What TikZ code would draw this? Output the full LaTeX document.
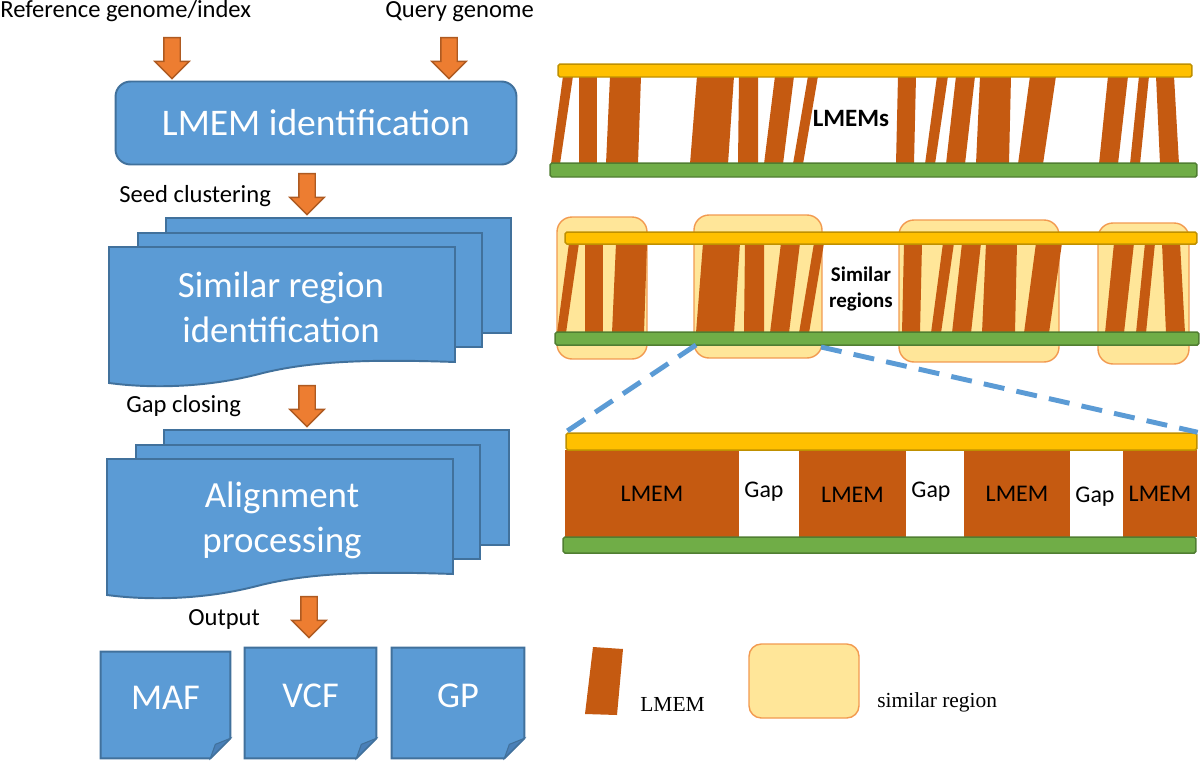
\documentclass[tikz,border=0pt]{standalone}
\usepackage{fontspec}
\setmainfont{Carlito}
\newfontfamily\legendfont{Liberation Serif}
\usepackage{tikz}
\usetikzlibrary{arrows.meta}
\usetikzlibrary{positioning, shapes.arrows, shapes.geometric, shapes.misc, backgrounds}
\usetikzlibrary{calc}
\definecolor{stageblue}{HTML}{5B9BD5}
\definecolor{stageline}{HTML}{41719C}
\definecolor{foldblue}{HTML}{4A80B8}
\definecolor{arroworange}{HTML}{ED7D31}
\definecolor{arrowline}{HTML}{AE5A21}
\definecolor{lmemfill}{HTML}{C55A11}
\definecolor{reffill}{HTML}{FFC000}
\definecolor{refline}{HTML}{BF9000}
\definecolor{qryfill}{HTML}{70AD47}
\definecolor{qryline}{HTML}{507E32}
\definecolor{simfill}{HTML}{FFE699}
\definecolor{simline}{HTML}{F29A50}
\tikzset{
flow arrow/.style = { single arrow, draw = arrowline, fill = arroworange, line width = 0.8pt, minimum height = 0.82cm, single arrow head extend = 0.18cm, shape border rotate = 270, inner sep = 0.15cm },
stage box/.style = { rectangle, draw = stageline, fill = stageblue, line width = 1.1pt, rounded corners = 8.5pt, text = white, font = \fontsize{21.4}{25.5}\selectfont },
stage text/.style = { text = white, align = center, font = \fontsize{21}{25.5}\selectfont },
out doc/.style = { rectangle, draw = none, text = white, inner sep = 0pt, text height = 0.46cm, text depth = 0.28cm, font = \fontsize{20.7}{24}\selectfont },
doc layer/.style = { draw = stageline, fill = stageblue, line width = 1.1pt },
fold/.style = { draw = stageline, fill = foldblue, line width = 0.6pt },
step label/.style = { inner sep = 0pt, font = \fontsize{14}{16}\selectfont },
ref bar/.style = { rectangle, draw = refline, fill = reffill, line width = 0.85pt, rounded corners = 1pt, inner sep = 0pt },
qry bar/.style = { rectangle, draw = qryline, fill = qryfill, line width = 0.85pt, rounded corners = 1pt, inner sep = 0pt },
lmem bar/.style = { fill = lmemfill },
lmem block/.style = { rectangle, fill = lmemfill, inner sep = 0pt, font = \fontsize{13.6}{16}\selectfont },
gap label/.style = { inner sep = 0pt, font = \fontsize{13.6}{16}\selectfont },
similar box/.style = { rectangle, draw = simline, fill = simfill, line width = 0.8pt, rounded corners = 8.5pt, inner sep = 0pt },
legend text/.style = { inner sep = 0pt, font = \legendfont\fontsize{12.2}{14}\selectfont },
zoom line/.style = { draw = stageblue, line width = 2.8pt, dash pattern = on 12pt off 7pt },
pics/doc stack/.style = {
        code = {
        \path[doc layer] (57,-29) rectangle ++(345,115);
        \path[doc layer] (29,-14) rectangle ++(344,114);
        \path[doc layer] (0,0) -- (346,0) -- (346,115) .. controls (260,112) and (200,114) .. (150,127) .. controls (100,140) and (45,142) .. (0,136) -- cycle;
        }
    }
}
\newcommand{\lmemlist}{563/573/551/560, 579/597/579/597, 610/641/606/638, 697/734/690/728, 739/758/738/758, 775/794/764/783, 808/818/793/803, 898/916/896/914, 937/948/925/935, 956/975/946/965, 980/1011/976/1009, 1030/1056/1018/1043, 1108/1128/1099/1118, 1139/1149/1130/1140, 1156/1174/1160/1179}

\begin{document}
\begin{tikzpicture}[x=0.02cm, y=-0.02cm]
      \useasboundingbox (0,0) rectangle (1200,761);
      \node[step label, anchor = base west] (refgen) at (0,17) {Reference genome/index};
      \node[step label, anchor = base west] (qrygen) at (385,17) {Query genome};
      \node[flow arrow] (arrref) at (172,54) {};
      \node[flow arrow] (arrqry) at (449,54) {};
      \node[stage box, minimum width = 8.02cm, minimum height = 1.66cm] (lmemid) at (316,123) {LMEM identification};
      \node[step label, anchor = base west] (seedcl) at (119,202) {Seed clustering};
      \node[flow arrow] (arrseed) at (307,190) {};
      \pic at (109,247) {doc stack};
      \node[stage text] (simid) at (281,307) {Similar region\\identification};
      \node[step label, anchor = base west] (gapcl) at (126,412) {Gap closing};
      \node[flow arrow] (arrgap) at (307,402) {};
      \pic at (107,459) {doc stack};
      \node[stage text] (alnproc) at (282,520) {Alignment\\processing};
      \node[step label, anchor = base west] (output) at (188,625) {Output};
      \node[flow arrow] (arrout) at (309,613) {};
      \node[out doc, minimum width = 2.58cm, minimum height = 2.12cm] (maf) at (165.5,705) {MAF};
      \node[out doc, minimum width = 2.62cm, minimum height = 2.2cm] (vcf) at (310.5,703) {VCF};
      \node[out doc, minimum width = 2.64cm, minimum height = 2.2cm] (gp) at (458,703) {GP};
      \begin{scope}[on background layer]
        \fill[white] (0,0) rectangle (1200,761);
        \foreach \n in {maf, vcf, gp} {
          \path[doc layer] (\n.north west) -- (\n.north east) -- ($(\n.south east)+(0,-20)$) -- ($(\n.south east)+(-20,0)$) -- (\n.south west) -- cycle;
          \path[fold] ($(\n.south east)+(0,-20)$) -- ($(\n.south east)+(-15,-14)$) -- ($(\n.south east)+(-20,0)$) -- cycle;
        }
      \end{scope}
      \begin{scope}
        \foreach \tl/\tr/\bl/\br in \lmemlist {
          \fill[lmem bar] (\tl,76) -- (\tr,76) -- (\br,164) -- (\bl,164) -- cycle;
        }
        \node[ref bar, minimum width = 12.68cm, minimum height = 0.26cm] (ref1) at (875,70.5) {};
        \node[qry bar, minimum width = 12.94cm, minimum height = 0.28cm] (qry1) at (873.5,170) {};
        \node[inner sep = 0pt, font = \bfseries\fontsize{14.2}{16}\selectfont] (lmems) at (851,118) {LMEMs};
      \end{scope}
      \begin{scope}
        \node[similar box, minimum width = 1.8cm, minimum height = 2.84cm] (simA) at (602,288) {};
        \node[similar box, minimum width = 2.56cm, minimum height = 2.86cm] (simB) at (758,286.5) {};
        \node[similar box, minimum width = 3.2cm, minimum height = 2.84cm] (simC) at (979,291) {};
        \node[similar box, minimum width = 1.82cm, minimum height = 2.82cm] (simD) at (1143.5,293.5) {};
        \foreach \tl/\tr/\bl/\br in \lmemlist {
          \fill[lmem bar] ({\tl+6},243) -- ({\tr+6},243) -- ({\br+6},333) -- ({\bl+6},333) -- cycle;
        }
        \node[ref bar, minimum width = 12.64cm, minimum height = 0.24cm] (ref2) at (881,238) {};
        \node[qry bar, minimum width = 12.88cm, minimum height = 0.26cm] (qry2) at (877,338.5) {};
        \node[inner sep = 0pt, align = center, font = \bfseries\fontsize{11.9}{15}\selectfont] (simregs) at (861,289) {Similar\\regions};
      \end{scope}
      \begin{scope}
        \node[lmem block, minimum width = 3.48cm, minimum height = 1.74cm] (lm1) at (652,493.5) {LMEM};
        \node[lmem block, minimum width = 2.14cm, minimum height = 1.8cm] (lm2) at (852.5,495) {LMEM};
        \node[lmem block, minimum width = 2.12cm, minimum height = 1.74cm] (lm3) at (1017,493.5) {LMEM};
        \node[lmem block, minimum width = 1.48cm, minimum height = 1.74cm] (lm4) at (1160,493.5) {LMEM};
        \node[gap label] (gap1) at (764,492) {Gap};
        \node[gap label] (gap2) at (931,492) {Gap};
        \node[gap label] (gap3) at (1095,497) {Gap};
        \node[ref bar, minimum width = 12.62cm, minimum height = 0.34cm] (ref3) at (881.5,441.5) {};
        \node[qry bar, minimum width = 12.66cm, minimum height = 0.32cm] (qry3) at (879.5,545) {};
        \coordinate (zoomL) at (696,345);
        \coordinate (zoomR) at (821,347);
        \path[zoom line] (zoomL) -- (ref3.north west);
        \path[zoom line] (zoomR) -- (ref3.north east);
      \end{scope}
      \fill[lmem bar] (593,647) -- (623,649) -- (617,715) -- (585,714) -- cycle;
      \node[legend text, anchor = base west] (leglmem) at (640,711) {LMEM};
      \node[similar box, minimum width = 2.2cm, minimum height = 1.48cm, rounded corners = 7pt] (legsim) at (804,681) {};
      \node[legend text, anchor = base west] (legsimtxt) at (877,707) {similar region};
    \end{tikzpicture}
\end{document}
